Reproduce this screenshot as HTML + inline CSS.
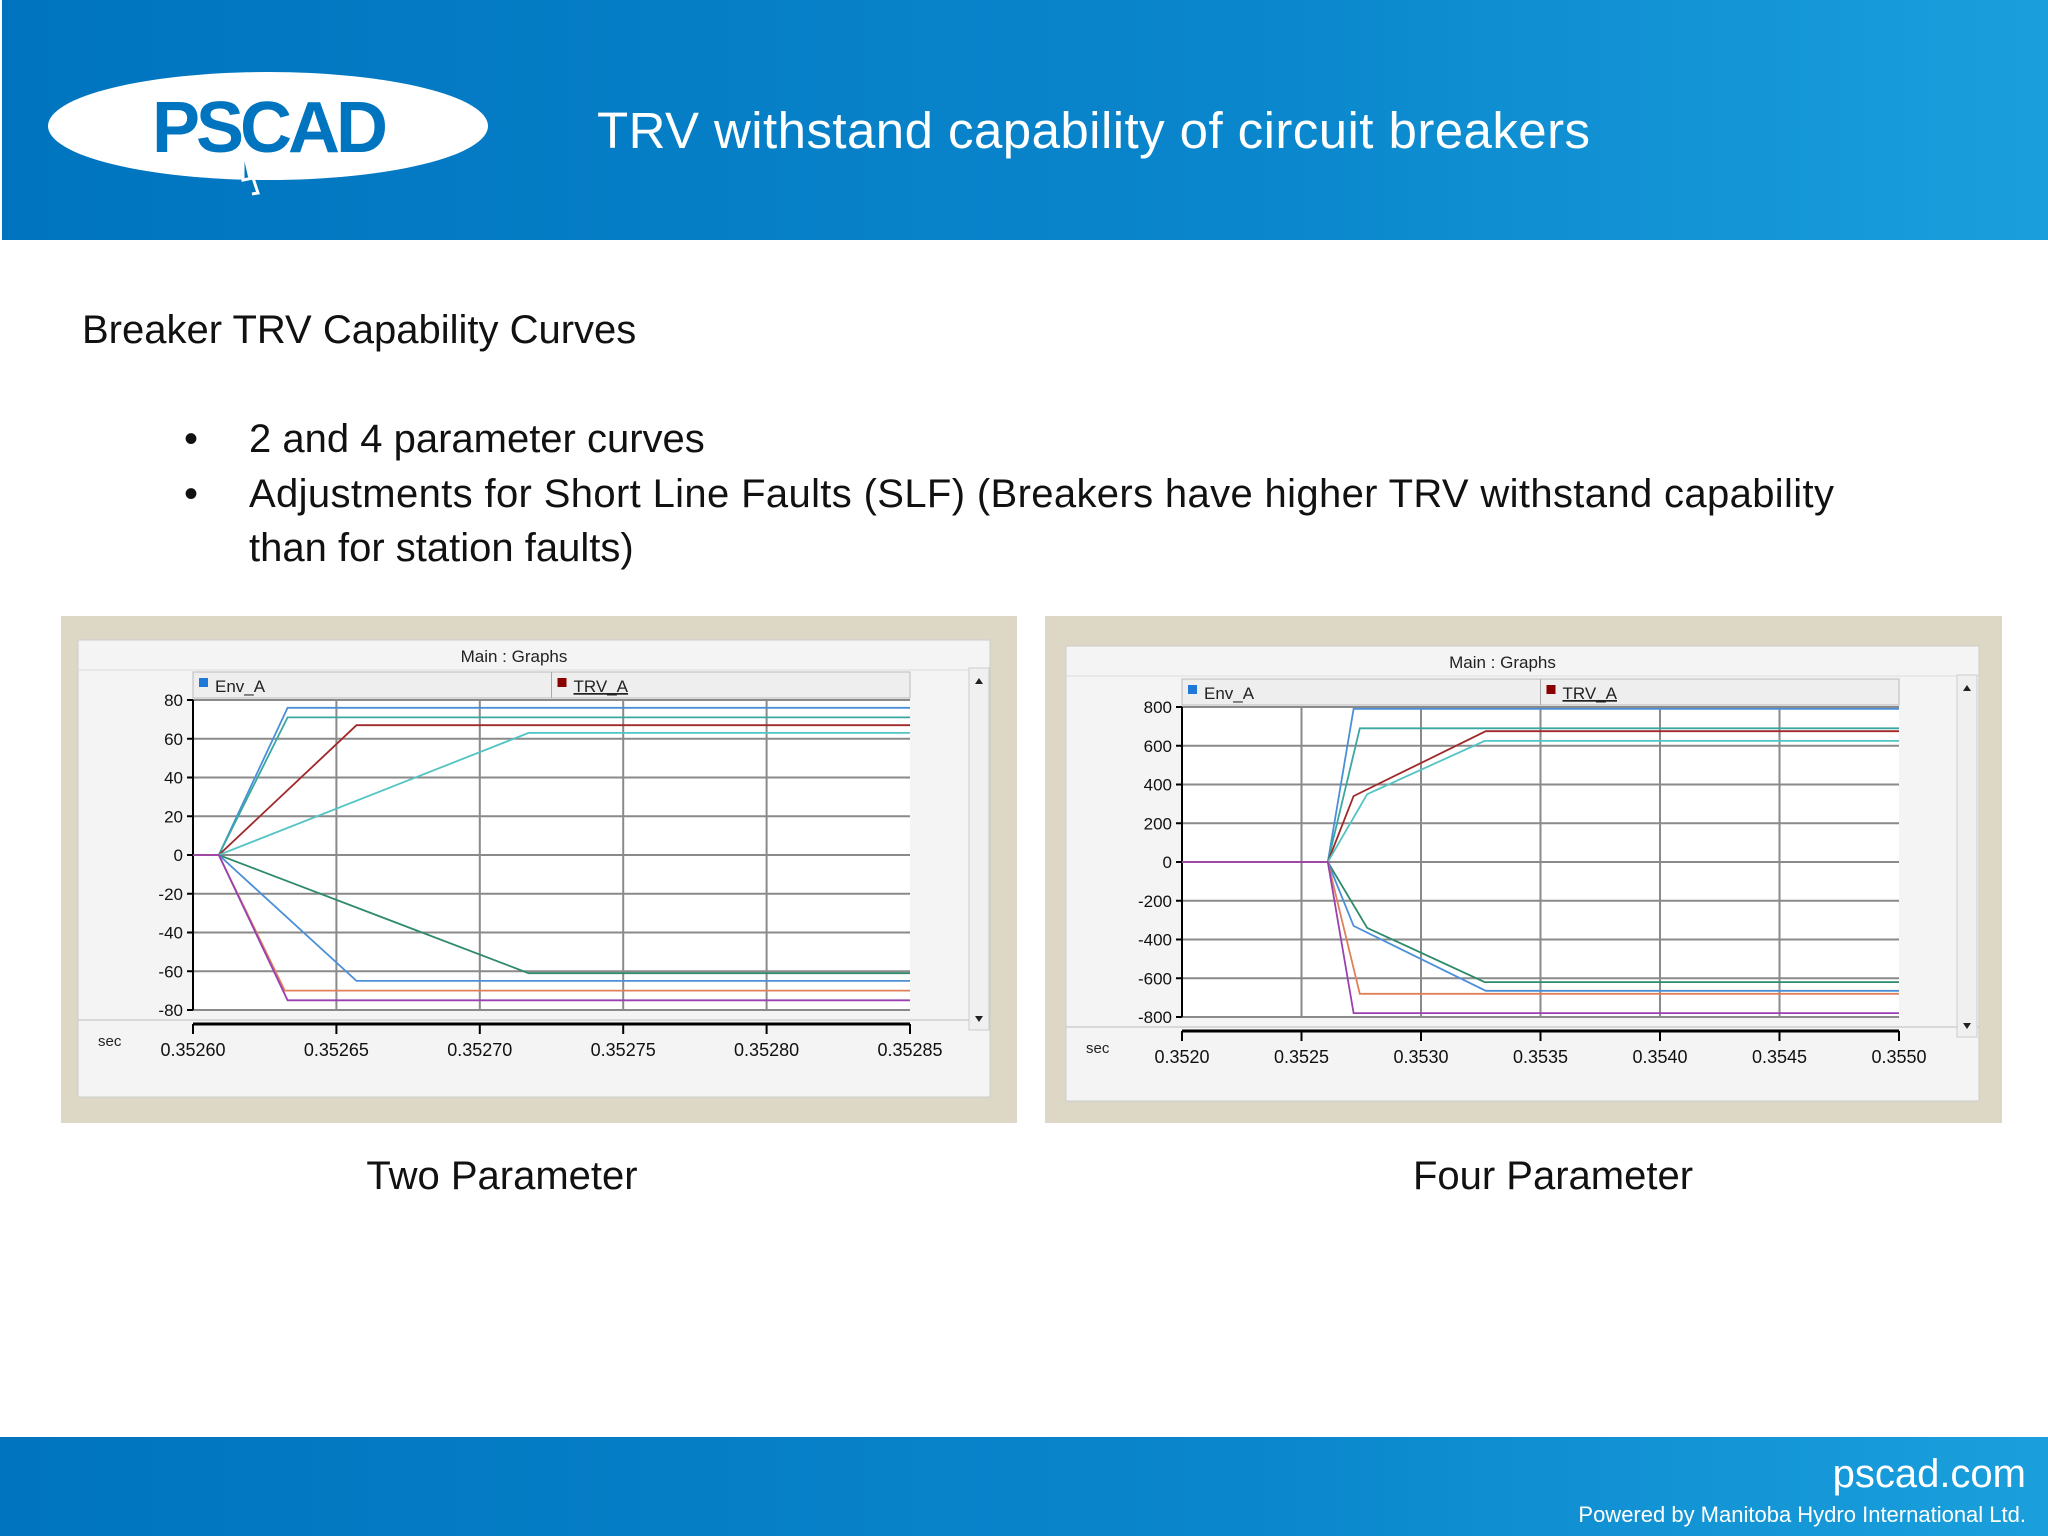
<!DOCTYPE html>
<html><head><meta charset="utf-8"><style>
html,body{margin:0;padding:0;background:#fff}
svg{display:block}
text{font-family:"Liberation Sans","DejaVu Sans",sans-serif}
</style></head><body>
<svg id="page" width="2048" height="1536" viewBox="0 0 2048 1536" xmlns="http://www.w3.org/2000/svg">
<defs>
<linearGradient id="hg" x1="0" x2="1" y1="0" y2="0"><stop offset="0" stop-color="#0074bf"/><stop offset="0.6" stop-color="#0a86cc"/><stop offset="1" stop-color="#1a9fdc"/></linearGradient>
</defs>
<rect x="2" y="0" width="2046" height="240" fill="url(#hg)"/>
<g>
<ellipse cx="268" cy="126" rx="220" ry="54" fill="#fff"/>
<text x="268" y="152" text-anchor="middle" font-size="72" font-weight="bold" fill="#0074bf" letter-spacing="-4">PSCAD</text>
<path d="M243 155 L243 180 L253 178 L258 193 L252 194" stroke="#fff" stroke-width="3" fill="#0074bf"/>
</g>
<text x="597" y="148" font-size="51" fill="#fff" textLength="993">TRV withstand capability of circuit breakers</text>
<text x="82" y="343" font-size="40" fill="#111">Breaker TRV Capability Curves</text>
<g font-size="40" fill="#111">
<text x="184" y="452">•</text><text x="249" y="452">2 and 4 parameter curves</text>
<text x="184" y="507">•</text><text x="249" y="507" textLength="1585">Adjustments for Short Line Faults (SLF) (Breakers have higher TRV withstand capability</text>
<text x="249" y="561">than for station faults)</text>
</g>
<g id="c1"></g>
<g id="c2"></g>
<text x="502" y="1189" text-anchor="middle" font-size="40" fill="#111">Two Parameter</text>
<text x="1553" y="1189" text-anchor="middle" font-size="40" fill="#111">Four Parameter</text>
<rect x="0" y="1437" width="2048" height="99" fill="url(#hg)"/>
<text x="2026" y="1487" text-anchor="end" font-size="40" fill="#fff">pscad.com</text>
<text x="2026" y="1522" text-anchor="end" font-size="22" fill="#fff">Powered by Manitoba Hydro International Ltd.</text>
</svg>
<script>
// Chart 1 data (two parameter)
const c1XTicks = [0.35260, 0.35265, 0.35270, 0.35275, 0.35280, 0.35285];
const c1XLabels = ["0.35260","0.35265","0.35270","0.35275","0.35280","0.35285"];
const c1YTicks = [80,60,40,20,0,-20,-40,-60,-80];
const c1SeriesT = [
  [0.35260,0.352609,0.352633,0.35285],
  [0.35260,0.352609,0.352633,0.35285],
  [0.35260,0.352609,0.352657,0.35285],
  [0.35260,0.352609,0.352717,0.35285],
  [0.35260,0.352609,0.352717,0.35285],
  [0.35260,0.352609,0.352657,0.35285],
  [0.35260,0.352609,0.352632,0.35285],
  [0.35260,0.352609,0.352633,0.35285]
];
const c1SeriesV = [
  [0,0,76,76],[0,0,71,71],[0,0,67,67],[0,0,63,63],
  [0,0,-61,-61],[0,0,-65,-65],[0,0,-70,-70],[0,0,-75,-75]
];
// Chart 2 data (four parameter)
const c2XTicks = [0.3520,0.3525,0.3530,0.3535,0.3540,0.3545,0.3550];
const c2XLabels = ["0.3520","0.3525","0.3530","0.3535","0.3540","0.3545","0.3550"];
const c2YTicks = [800,600,400,200,0,-200,-400,-600,-800];
const c2SeriesT = [
  [0.3520,0.35261,0.352718,0.3550],
  [0.3520,0.35261,0.352744,0.3550],
  [0.3520,0.35261,0.352718,0.353271,0.3550],
  [0.3520,0.35261,0.352775,0.353266,0.3550],
  [0.3520,0.35261,0.352775,0.353266,0.3550],
  [0.3520,0.35261,0.352718,0.353271,0.3550],
  [0.3520,0.35261,0.352744,0.3550],
  [0.3520,0.35261,0.352718,0.3550]
];
const c2SeriesV = [
  [0,0,790,790],[0,0,690,690],[0,0,340,675,675],[0,0,350,625,625],
  [0,0,-340,-620,-620],[0,0,-330,-665,-665],[0,0,-680,-680],[0,0,-780,-780]
];
const seriesColors = ["#4a8fd8","#3aa8a0","#a02828","#52c4c4","#2e8b6a","#4a8fd8","#e0805a","#9a40b0"];
const NS="http://www.w3.org/2000/svg";
function mk(p,tag,at){const e=document.createElementNS(NS,tag);for(const k in at)e.setAttribute(k,at[k]);p.appendChild(e);return e;}
function chart(g,o,xT,xL,yT,ST,SV){
  mk(g,'rect',{x:o.px,y:o.py,width:o.pw,height:o.ph,fill:'#ddd8c6'});
  mk(g,'rect',{x:o.ix,y:o.iy,width:o.iw,height:o.ih,fill:'#f4f4f4',stroke:'#ccc'});
  mk(g,'line',{x1:o.ix,x2:o.ix+o.iw,y1:o.iy+30,y2:o.iy+30,stroke:'#ddd'});
  const t=mk(g,'text',{x:o.ix+o.iw/2-20,y:o.iy+22,'text-anchor':'middle','font-size':17,fill:'#222'});t.textContent='Main : Graphs';
  
  
  const xmin=xT[0],xmax=xT[xT.length-1],ymax=yT[0],ymin=yT[yT.length-1];
  const X=v=>o.x0+(v-xmin)/(xmax-xmin)*(o.x1-o.x0);
  const Y=v=>o.y0+(ymax-v)/(ymax-ymin)*(o.y1-o.y0);
  const lg=mk(g,'g',{});
  
  
  mk(lg,'rect',{x:o.x0,y:o.y0-28,width:o.x1-o.x0,height:26,fill:'#eee',stroke:'#bbb'});
  mk(lg,'line',{x1:(o.x0+o.x1)/2,x2:(o.x0+o.x1)/2,y1:o.y0-28,y2:o.y0-2,stroke:'#aaa'});
  mk(lg,'rect',{x:o.x0+6,y:o.y0-22,width:9,height:9,fill:'#1e78d8'});
  let e=mk(lg,'text',{x:o.x0+22,y:o.y0-8,'font-size':17,fill:'#222'});e.textContent='Env_A';
  mk(lg,'rect',{x:(o.x0+o.x1)/2+6,y:o.y0-22,width:9,height:9,fill:'#8a0000'});
  e=mk(lg,'text',{x:(o.x0+o.x1)/2+22,y:o.y0-8,'font-size':17,fill:'#222','text-decoration':'underline'});e.textContent='TRV_A';
  mk(g,'rect',{x:o.x0,y:o.y0,width:o.x1-o.x0,height:o.y1-o.y0,fill:'#fff'});
  yT.forEach(v=>{
    mk(g,'line',{x1:o.x0,x2:o.x1,y1:Y(v),y2:Y(v),stroke:'#8a8a8a','stroke-width':2});
    mk(g,'line',{x1:o.x0-6,x2:o.x0,y1:Y(v),y2:Y(v),stroke:'#000','stroke-width':2});
    const l=mk(g,'text',{x:o.x0-10,y:Y(v)+6,'text-anchor':'end','font-size':17,fill:'#111'});l.textContent=v;
    
    
  });
  xT.forEach((v,i)=>{
    if(i>0&&i<xT.length-1)mk(g,'line',{x1:X(v),x2:X(v),y1:o.y0,y2:o.y1,stroke:'#8a8a8a','stroke-width':2});
    mk(g,'line',{x1:X(v),x2:X(v),y1:o.y1+14,y2:o.y1+24,stroke:'#000','stroke-width':2});
    const l=mk(g,'text',{x:X(v),y:o.y1+46,'text-anchor':'middle','font-size':18,fill:'#111'});l.textContent=xL[i];
    
    
  });
  mk(g,'line',{x1:o.x0,x2:o.x0,y1:o.y0,y2:o.y1,stroke:'#000','stroke-width':2});
  mk(g,'line',{x1:o.x0,x2:o.x1,y1:o.y1+14,y2:o.y1+14,stroke:'#000','stroke-width':3});
  mk(g,'line',{x1:o.ix,x2:o.ix+o.iw,y1:o.y1+10,y2:o.y1+10,stroke:'#bbb'});
  e=mk(g,'text',{x:o.ix+20,y:o.y1+36,'font-size':15,fill:'#222'});e.textContent='sec';
  
  
  ST.forEach((ts,k)=>{
    const pts=ts.map((t,i)=>X(t).toFixed(1)+','+Y(SV[k][i]).toFixed(1)).join(' ');
    const pl=mk(g,'polyline',{points:pts,fill:'none',stroke:seriesColors[k],'stroke-width':1.8});
    
    
  });
  const sb=mk(g,'g',{});
  
  
  mk(sb,'rect',{x:o.sx,y:o.y0-32,width:20,height:o.y1-o.y0+52,fill:'#f0f0f0',stroke:'#ccc'});
  mk(sb,'path',{d:`M${o.sx+6} ${o.y0-16} l4 -6 l4 6z`,fill:'#222'});
  mk(sb,'path',{d:`M${o.sx+6} ${o.y1+6} l4 6 l4 -6z`,fill:'#222'});
}
const g1=document.getElementById('c1');


chart(g1,{px:61,py:616,pw:956,ph:507,ix:78,iy:640,iw:912,ih:457,x0:193,x1:910,y0:700,y1:1010,sx:969},c1XTicks,c1XLabels,c1YTicks,c1SeriesT,c1SeriesV);
const g2=document.getElementById('c2');


chart(g2,{px:1045,py:616,pw:957,ph:507,ix:1066,iy:646,iw:913,ih:455,x0:1182,x1:1899,y0:707,y1:1017,sx:1957},c2XTicks,c2XLabels,c2YTicks,c2SeriesT,c2SeriesV);
</script>
</body></html>
